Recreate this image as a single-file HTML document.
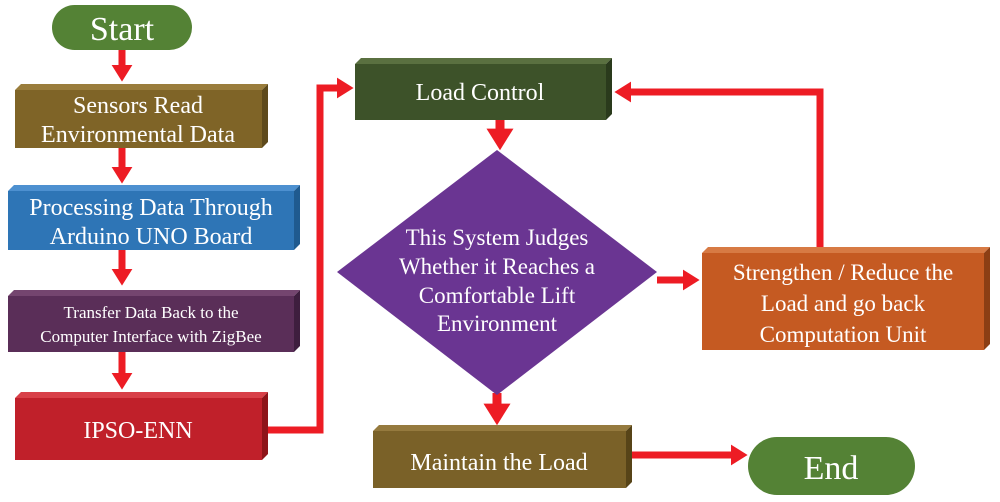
<!DOCTYPE html>
<html><head><meta charset="utf-8"><style>
html,body{margin:0;padding:0;background:#fff;width:1000px;height:502px;overflow:hidden}
</style></head><body>
<svg width="1000" height="502" viewBox="0 0 1000 502" xmlns="http://www.w3.org/2000/svg" font-family="'Liberation Serif', serif">
<defs>
<marker id="ah" markerWidth="3" markerHeight="3" refX="1.6" refY="1.5" orient="auto" markerUnits="strokeWidth">
<path d="M0,0 L2.4,1.5 L0,3 Z" fill="#ed1c24"/></marker>
</defs>
<g stroke="#ed1c24" stroke-width="7" fill="none">
<line x1="122" y1="50" x2="122" y2="76" marker-end="url(#ah)"/>
<line x1="122" y1="148" x2="122" y2="178" marker-end="url(#ah)"/>
<line x1="122" y1="250" x2="122" y2="280" marker-end="url(#ah)"/>
<line x1="122" y1="352" x2="122" y2="384" marker-end="url(#ah)"/>
<polyline points="268,430 320,430 320,88 348,88" marker-end="url(#ah)"/>
<line x1="500" y1="120" x2="500" y2="143" marker-end="url(#ah)" stroke-width="9"/>
<line x1="657" y1="280" x2="694" y2="280" marker-end="url(#ah)"/>
<polyline points="820,247 820,92 620,92" marker-end="url(#ah)"/>
<line x1="497" y1="393" x2="497" y2="418" marker-end="url(#ah)" stroke-width="9"/>
<line x1="632" y1="455" x2="742" y2="455" marker-end="url(#ah)"/>
</g>
<g fill="#fff" text-anchor="middle">
<rect x="52" y="5" width="140" height="45" rx="22.5" fill="#548235"/>
<text x="122" y="40" font-size="34">Start</text>
<polygon points="15,90 21,84 268,84 262,90" fill="#9a7d3c"/><polygon points="262,90 268,84 268,142 262,148" fill="#5e4a1c"/>
<rect x="15" y="90" width="247" height="58" fill="#7f6427"/>
<text x="138" y="113" font-size="24">Sensors Read</text><text x="138" y="142" font-size="24">Environmental Data</text>
<polygon points="8,191 14,185 300,185 294,191" fill="#4d90d0"/><polygon points="294,191 300,185 300,244 294,250" fill="#1f5a8f"/>
<rect x="8" y="191" width="286" height="59" fill="#2e75b6"/>
<text x="151" y="215" font-size="24">Processing Data Through</text><text x="151" y="244" font-size="24">Arduino UNO Board</text>
<polygon points="8,296 14,290 300,290 294,296" fill="#74456f"/><polygon points="294,296 300,290 300,346 294,352" fill="#3e1e3e"/>
<rect x="8" y="296" width="286" height="56" fill="#5a2e58"/>
<text x="151" y="318" font-size="17">Transfer Data Back to the</text><text x="151" y="342" font-size="17">Computer Interface with ZigBee</text>
<polygon points="15,398 21,392 268,392 262,398" fill="#d84048"/><polygon points="262,398 268,392 268,454 262,460" fill="#8e1419"/>
<rect x="15" y="398" width="247" height="62" fill="#c0202a"/>
<text x="138" y="438" font-size="24">IPSO-ENN</text>
<polygon points="355,64 361,58 612,58 606,64" fill="#5a7040"/><polygon points="606,64 612,58 612,114 606,120" fill="#2a3a1c"/>
<rect x="355" y="64" width="251" height="56" fill="#3d5229"/>
<text x="480" y="100" font-size="24">Load Control</text>
<polygon points="497,150 657,272 497,395 337,272" fill="#6a3592"/>
<text x="497" y="245" font-size="23">This System Judges</text>
<text x="497" y="274" font-size="23">Whether it Reaches a</text>
<text x="497" y="303" font-size="23">Comfortable Lift</text>
<text x="497" y="331" font-size="23">Environment</text>
<polygon points="702,253 708,247 990,247 984,253" fill="#d77a44"/><polygon points="984,253 990,247 990,344 984,350" fill="#8c3e14"/>
<rect x="702" y="253" width="282" height="97" fill="#c55a22"/>
<text x="843" y="280" font-size="23">Strengthen / Reduce the</text>
<text x="843" y="311" font-size="23">Load and go back</text>
<text x="843" y="342" font-size="23">Computation Unit</text>
<polygon points="373,431 379,425 632,425 626,431" fill="#957a3e"/><polygon points="626,431 632,425 632,482 626,488" fill="#574418"/>
<rect x="373" y="431" width="253" height="57" fill="#7a6128"/>
<text x="499" y="470" font-size="24">Maintain the Load</text>
<rect x="748" y="437" width="167" height="58" rx="29" fill="#548235"/>
<text x="831" y="479" font-size="34">End</text>
</g>
</svg>
</body></html>
